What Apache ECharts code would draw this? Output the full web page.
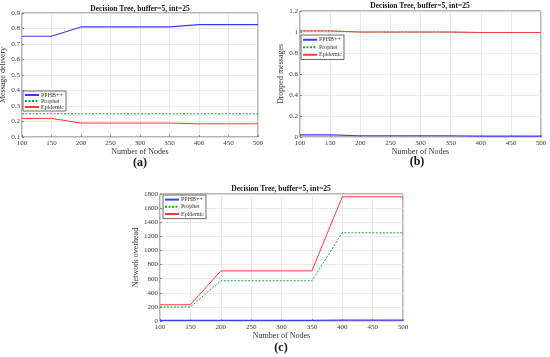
<!DOCTYPE html>
<html>
<head>
<meta charset="utf-8">
<script src="https://cdn.jsdelivr.net/npm/echarts@6/dist/echarts.min.js"></script>
<style>html,body{margin:0;padding:0;background:#fff}#c{width:550px;height:357px}</style>
</head>
<body>
<div id="c"></div>
<script>
const nodes = [100, 150, 200, 250, 300, 350, 400, 450, 500];
const seriesNames = ['PPHB++', 'Prophet', 'Epidemic'];
// (a) Message delivery
const deliveryPPHB = [0.75, 0.75, 0.81, 0.81, 0.81, 0.81, 0.825, 0.825, 0.825];
const deliveryProphet = [0.25, 0.25, 0.25, 0.25, 0.25, 0.25, 0.25, 0.25, 0.25];
const deliveryEpidemic = [0.22, 0.22, 0.19, 0.19, 0.19, 0.19, 0.185, 0.185, 0.185];
// (b) Dropped messages
const droppedPPHB = [0.02, 0.02, 0.012, 0.012, 0.012, 0.012, 0.008, 0.008, 0.008];
const droppedProphet = [1.01, 1.01, 1.0, 1.0, 1.0, 1.0, 0.995, 0.995, 0.995];
const droppedEpidemic = [1.01, 1.01, 1.0, 1.0, 1.0, 1.0, 0.995, 0.995, 0.995];
// (c) Network overhead
const overheadPPHB = [8, 8, 10, 10, 10, 10, 12, 12, 12];
const overheadProphet = [198, 198, 570, 570, 570, 570, 1250, 1250, 1250];
const overheadEpidemic = [230, 230, 710, 710, 710, 710, 1760, 1760, 1760];

const titleText = 'Decision Tree, buffer=5, int=25';
const xName = 'Number of Nodes';
const yNames = ['Message delivery', 'Dropped messages', 'Network overhead'];
const subLabels = ['(a)', '(b)', '(c)'];

const FONT = 'Liberation Serif';
const colors = {PPHB: '#3a3aff', Prophet: '#11aa33', Epidemic: '#ff3b3b'};

const grids = [
  {left: 22, right: 292, top: 13, bottom: 220},
  {left: 300, right: 9, top: 11, bottom: 220},
  {left: 160, right: 147, top: 194, bottom: 36}
];
const yRanges = [
  {min: 0.1, max: 0.9, interval: 0.1, nameGap: 11},
  {min: 0, max: 1.2, interval: 0.2, nameGap: 9},
  {min: 0, max: 1800, interval: 200, nameGap: 14}
];

const fmt = v => String(+Number(v).toFixed(3));

function xAxis(i) {
  return {
    gridIndex: i, type: 'value', min: 100, max: 500, interval: 50,
    axisLine: {show: false},
    axisTick: {inside: true, length: 2, lineStyle: {color: '#444', width: 0.6}},
    axisLabel: {fontSize: 7, margin: 3, color: '#333', fontFamily: FONT, formatter: fmt},
    splitLine: {show: true, lineStyle: {color: '#e4e4e4', width: 0.8}},
    name: xName, nameLocation: 'middle', nameGap: 10,
    nameTextStyle: {fontSize: 8, color: '#333', fontFamily: FONT}
  };
}
function yAxis(i) {
  const r = yRanges[i];
  return {
    gridIndex: i, type: 'value', min: r.min, max: r.max, interval: r.interval,
    axisLine: {show: false},
    axisTick: {inside: true, length: 2, lineStyle: {color: '#444', width: 0.6}},
    axisLabel: {fontSize: 7, margin: 2, color: '#333', fontFamily: FONT, formatter: fmt},
    splitLine: {show: true, lineStyle: {color: '#e4e4e4', width: 0.8}},
    name: yNames[i], nameLocation: 'middle', nameGap: r.nameGap,
    nameTextStyle: {fontSize: 8, color: '#333', fontFamily: FONT}
  };
}
function line(i, name, arr, color, dashed, width) {
  return {
    type: 'line', name: name, xAxisIndex: i, yAxisIndex: i,
    data: nodes.map((x, k) => [x, arr[k]]),
    symbol: 'none', animation: false,
    lineStyle: {color: color, width: width || 1, type: dashed ? [2, 1.5] : 'solid'},
    itemStyle: {color: color}
  };
}
function legend(left, top, lh) {
  return {
    data: seriesNames, left: left, top: top, orient: 'vertical',
    itemGap: 0, itemWidth: 14, itemHeight: 5, selectedMode: false,
    padding: [1, 2, 1, 1], borderColor: '#444', borderWidth: 0.8,
    backgroundColor: '#fff',
    itemStyle: {opacity: 0},
    textStyle: {fontSize: 6, lineHeight: lh, color: '#333', fontFamily: FONT, padding: [0, 0, 0, -3]}
  };
}

const chart = echarts.init(document.getElementById('c'), null, {renderer: 'canvas'});
const titlePos = [[140, 9], [420, 6], [281, 189]];
const subPos = [[140, 163], [417, 162], [281, 348]];
const graphics = [];
for (let i = 0; i < 3; i++) {
  graphics.push({type: 'text', x: titlePos[i][0], y: titlePos[i][1], z: 100,
    style: {text: titleText, font: 'bold 7.5px "Liberation Serif"', fill: '#111', align: 'center', verticalAlign: 'middle'}});
  graphics.push({type: 'text', x: subPos[i][0], y: subPos[i][1], z: 100,
    style: {text: subLabels[i], font: 'bold 12px "Liberation Serif"', fill: '#111', align: 'center', verticalAlign: 'middle'}});
}

chart.setOption({
  animation: false,
  backgroundColor: '#fff',
  grid: grids.map(g => Object.assign({show: true, borderColor: '#444', borderWidth: 0.8, backgroundColor: '#fff', containLabel: false, outerBoundsMode: 'none'}, g)),
  xAxis: [0, 1, 2].map(xAxis),
  yAxis: [0, 1, 2].map(yAxis),
  legend: [legend(23, 91, 6), legend(301, 35, 7.5), legend(163, 195, 7.2)],
  graphic: graphics,
  series: [
    line(0, 'PPHB++', deliveryPPHB, colors.PPHB, false, 1.2),
    line(0, 'Prophet', deliveryProphet, colors.Prophet, true, 1),
    line(0, 'Epidemic', deliveryEpidemic, colors.Epidemic, false, 1),
    line(1, 'PPHB++', droppedPPHB, colors.PPHB, false, 1.2),
    line(1, 'Prophet', droppedProphet, colors.Prophet, true, 1),
    line(1, 'Epidemic', droppedEpidemic, colors.Epidemic, false, 1),
    line(2, 'PPHB++', overheadPPHB, colors.PPHB, false, 1.2),
    line(2, 'Prophet', overheadProphet, colors.Prophet, true, 1),
    line(2, 'Epidemic', overheadEpidemic, colors.Epidemic, false, 1)
  ]
});
</script>
</body>
</html>
